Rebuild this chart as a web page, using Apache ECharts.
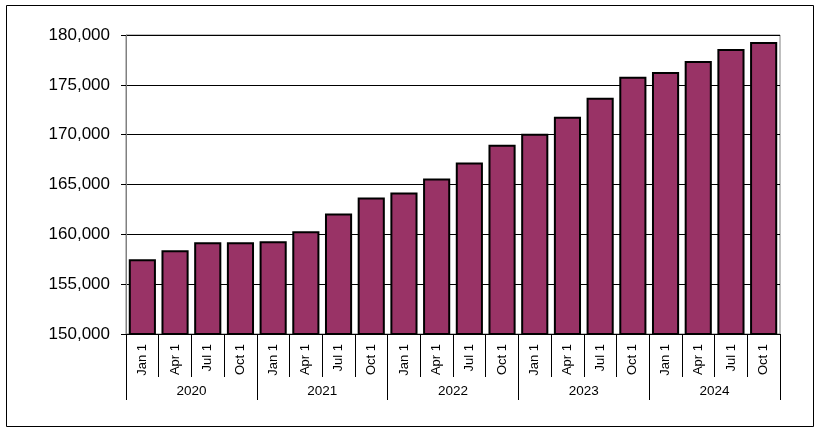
<!DOCTYPE html>
<html>
<head>
<meta charset="utf-8">
<script src="https://cdn.jsdelivr.net/npm/echarts@6/dist/echarts.min.js"></script>
<style>
html,body{margin:0;padding:0;background:#fff;}
#chart{width:821px;height:436px;}
</style>
</head>
<body>
<div id="chart"></div>
<script>
const quarterLabels = ['Jan 1','Apr 1','Jul 1','Oct 1','Jan 1','Apr 1','Jul 1','Oct 1','Jan 1','Apr 1','Jul 1','Oct 1','Jan 1','Apr 1','Jul 1','Oct 1','Jan 1','Apr 1','Jul 1','Oct 1'];
const years = ['2020','2021','2022','2023','2024'];
const values = [157500,158400,159200,159200,159300,160300,162100,163700,164200,165600,167200,169000,170100,171800,173700,175800,176300,177400,178600,179300];
const yTicks = {min:150000, max:180000, step:5000};

const font = '"Liberation Sans", Arial, sans-serif';
const chart = echarts.init(document.getElementById('chart'));
chart.setOption({
  animation:false,
  backgroundColor:'#fff',
  graphic:[{
    type:'rect', z:-1,
    shape:{x:6.5,y:5.5,width:807,height:421},
    style:{fill:'none',stroke:'#000',lineWidth:1}
  }],
  grid:{left:126,top:35,width:654,height:299,show:true,borderColor:'#808080',borderWidth:1,backgroundColor:'transparent'},
  xAxis:[{
    type:'category',
    data:quarterLabels,
    position:'bottom',
    axisLine:{show:true,lineStyle:{color:'#000',width:1}},
    axisTick:{show:true,interval:0,length:43,lineStyle:{color:'#000'}},
    axisLabel:{interval:0,rotate:90,margin:10,fontSize:13,color:'#000',fontFamily:font},
    splitLine:{show:false}
  },{
    type:'category',
    data:years,
    position:'bottom',
    offset:0,
    axisLine:{show:false},
    axisTick:{show:true,interval:0,length:66,lineStyle:{color:'#000'}},
    axisLabel:{interval:0,margin:50,fontSize:13.5,color:'#000',fontFamily:font},
    splitLine:{show:false}
  }],
  yAxis:{
    type:'value',
    min:yTicks.min,max:yTicks.max,interval:yTicks.step,
    axisLine:{show:true,lineStyle:{color:'#808080',width:1}},
    axisTick:{show:true,length:5,lineStyle:{color:'#000'}},
    axisLabel:{margin:16,fontSize:17,color:'#000',fontFamily:font,
      formatter:v=>v.toLocaleString('en-US')},
    splitLine:{show:true,lineStyle:{color:'#000',width:1}}
  },
  series:[{
    type:'bar',
    xAxisIndex:0,
    data:values,
    barCategoryGap:'17%',
    itemStyle:{color:'#993366',borderColor:'#000',borderWidth:2}
  }]
});
</script>
</body>
</html>
